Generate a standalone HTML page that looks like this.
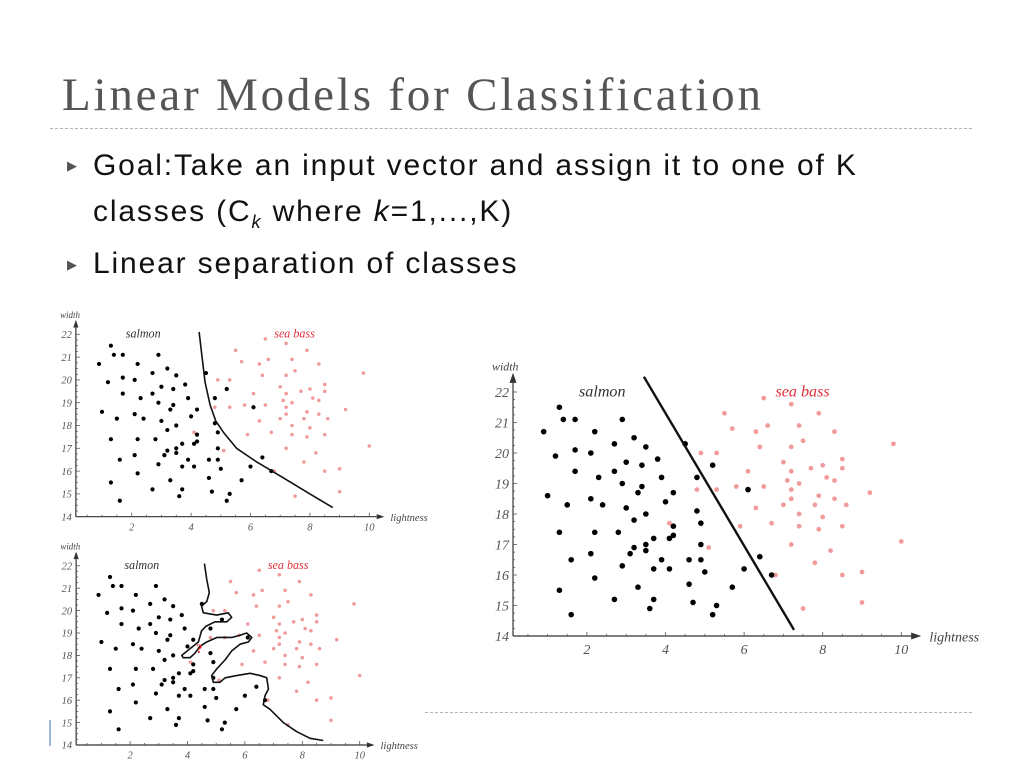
<!DOCTYPE html>
<html><head><meta charset="utf-8">
<style>
body{margin:0;width:1024px;height:768px;background:#fff;overflow:hidden;position:relative;font-family:"Liberation Sans",sans-serif}
.title{position:absolute;left:62px;top:68px;font-family:"Liberation Serif",serif;font-size:47px;color:#555;letter-spacing:2.8px;white-space:nowrap}
.rule{position:absolute;border-top:1px dashed #aab4c0;height:0}
.bul{position:absolute;left:67px;color:#555;font-size:13px}
.txt{position:absolute;left:93px;font-size:30px;color:#111;line-height:46px;letter-spacing:1.85px;white-space:nowrap}
svg{position:absolute;left:0;top:0}
</style></head><body>
<div class="title">Linear Models for Classification</div>
<div class="rule" style="left:50px;top:128px;width:922px"></div>
<div class="rule" style="left:425px;top:712px;width:547px"></div>
<div class="bul" style="top:158px">&#9654;</div>
<div class="txt" style="top:143px">Goal:Take an input vector and assign it to one of K<br>classes (C<sub style="font-size:18px;font-style:italic">k</sub> where <i>k</i>=1,...,K)</div>
<div class="bul" style="top:257px">&#9654;</div>
<div class="txt" style="top:241px">Linear separation of classes</div>
<div style="position:absolute;left:49px;top:720px;width:2px;height:26px;background:#9fb6d6"></div>
<svg id="chart" width="1024" height="768"></svg>
<script>
const salmonX=[1.3,1.4,1.7,0.9,2.2,2.9,3.2,2.7,3.5,1.2,1.7,2.1,3.8,4.5,1.7,3.0,2.7,3.4,2.3,3.9,4.8,5.2,1.0,2.9,3.4,3.3,4.2,6.1,1.5,2.1,2.4,3.0,4.0,3.5,4.8,3.2,4.2,4.9,1.3,2.2,2.8,4.2,4.1,3.7,3.5,4.9,2.1,3.2,3.1,3.5,3.9,4.6,4.9,1.6,2.9,3.7,4.1,5.0,6.0,6.4,6.7,2.2,4.6,3.3,5.7,1.3,2.7,3.7,4.7,3.6,5.3,1.6,5.2];
const salmonY=[21.5,21.1,21.1,20.7,20.7,21.1,20.5,20.3,20.2,19.9,20.1,20.0,19.8,20.3,19.4,19.7,19.4,19.6,19.2,19.2,19.2,19.6,18.6,19.0,18.9,18.7,18.7,18.8,18.3,18.5,18.3,18.2,18.4,18.0,18.1,17.8,17.6,17.7,17.4,17.4,17.4,17.3,17.2,17.2,17.0,17.0,16.7,16.9,16.7,16.8,16.5,16.5,16.5,16.5,16.3,16.2,16.2,16.1,16.2,16.6,16.0,15.9,15.7,15.6,15.6,15.5,15.2,15.2,15.1,14.9,15.0,14.7,14.7];
const bassX=[6.5,7.2,5.5,7.9,6.6,7.4,5.7,6.3,8.3,7.5,9.8,6.4,7.2,4.9,5.3,8.5,7.0,8.0,8.5,6.1,7.7,7.2,7.1,8.1,8.3,7.4,4.8,5.3,5.8,6.5,7.2,9.2,7.9,8.3,7.2,6.3,7.0,7.8,8.6,7.4,8.0,4.1,6.7,5.9,7.4,7.9,8.5,10.0,7.2,5.1,8.2,7.8,9.0,6.8,8.5,9.0,7.5];
const bassY=[21.8,21.6,21.3,21.3,20.9,20.9,20.8,20.7,20.7,20.4,20.3,20.2,20.2,20.0,20.0,19.8,19.7,19.6,19.5,19.4,19.5,19.4,19.1,19.2,19.1,19.0,18.8,18.8,18.9,18.9,18.8,18.7,18.6,18.5,18.5,18.2,18.3,18.3,18.3,18.0,17.9,17.7,17.7,17.6,17.6,17.5,17.6,17.1,17.0,16.9,16.8,16.4,16.1,16.0,16.0,15.1,14.9];
const xTicks=[2,4,6,8,10];
const yTicks=[14,15,16,17,18,19,20,21,22];
const lineX=[3.45,7.27];
const lineY=[22.5,14.2];
const curveX=[4.27,4.36,4.47,4.64,4.83,5.09,5.53,6.21,7.11,8.0,8.77];
const curveY=[22.1,21.1,19.9,18.9,18.2,17.7,17.0,16.4,15.7,15.0,14.4];
const wigX=[4.59,4.67,4.76,4.67,4.49,4.55,5.02,5.42,5.54,5.37,4.96,4.64,4.49,4.38,4.09,3.8,3.85,4.09,4.26,4.43,4.67,5.02,5.54,5.83,6.06,6.24,6.12,5.83,5.54,5.31,5.02,4.84,4.9,5.13,5.31,5.71,6.18,6.53,6.76,6.82,6.7,6.64,6.87,7.34,7.8,8.27,8.73];
const wigY=[22.1,21.4,20.8,20.4,20.2,19.9,19.8,19.9,19.7,19.5,19.5,19.3,19.1,18.6,18.3,18.0,17.9,17.9,18.1,18.4,18.6,18.8,18.8,18.9,19.0,18.8,18.6,18.5,18.2,17.8,17.4,17.1,16.8,16.8,17.0,17.1,17.2,17.1,17.0,16.5,16.2,15.8,15.6,15.0,14.6,14.3,14.2];

const svg=document.getElementById('chart');
const NS='http://www.w3.org/2000/svg';
function mk(tag,attrs,parent){const e=document.createElementNS(NS,tag);for(const k in attrs)e.setAttribute(k,attrs[k]);parent.appendChild(e);return e;}

function plot(cfg){
  const g=mk('g',{},svg);
  
  
  const sx=v=>cfg.x0+v*cfg.kx, sy=v=>cfg.y14-(v-14)*cfg.ky;
  const ox=sx(0.12), oy=sy(14);
  const ax=mk('line',{x1:ox,y1:oy,x2:sx(10.25),y2:oy,stroke:'#333','stroke-width':1.2},g);
  
  const ay=mk('line',{x1:ox,y1:oy,x2:ox,y2:sy(22.3),stroke:'#333','stroke-width':1.2},g);
  
  const a=cfg.fs*0.45;
  mk('polygon',{points:`${sx(10.25)+a*1.6},${oy} ${sx(10.25)},${oy-a*0.55} ${sx(10.25)},${oy+a*0.55}`,fill:'#333'},g);
  mk('polygon',{points:`${ox},${sy(22.3)-a*1.6} ${ox-a*0.55},${sy(22.3)} ${ox+a*0.55},${sy(22.3)}`,fill:'#333'},g);
  for(let v=0.5;v<=10;v+=0.5){mk('line',{x1:sx(v),y1:oy,x2:sx(v),y2:oy-(v%2===0?4:2),stroke:'#555','stroke-width':0.8},g);}
  for(let v=14.25;v<=22;v+=0.25){mk('line',{x1:ox,y1:sy(v),x2:ox+(Number.isInteger(v)?4:2),y2:sy(v),stroke:'#555','stroke-width':0.8},g);}
  xTicks.forEach(v=>{const t=mk('text',{x:sx(v),y:oy+cfg.fs*1.3,'text-anchor':'middle','font-size':cfg.fs,'font-style':'italic','font-family':'Liberation Serif,serif',fill:'#555'},g);t.textContent=v;
    });
  yTicks.forEach(v=>{const t=mk('text',{x:ox-4,y:sy(v)+cfg.fs*0.35,'text-anchor':'end','font-size':cfg.fs,'font-style':'italic','font-family':'Liberation Serif,serif',fill:'#555'},g);t.textContent=v;
    });
  const xt=mk('text',{x:sx(10.25)+cfg.fs*1.3,y:oy+cfg.fs*0.4,'font-size':cfg.fs,'font-style':'italic','font-family':'Liberation Serif,serif',fill:'#444'},g);xt.textContent='lightness';
  
  const yt=mk('text',{x:ox-cfg.fs*1.5,y:sy(22.3)-cfg.fs*0.9,'font-size':cfg.fs*0.85,'font-style':'italic','font-family':'Liberation Serif,serif',fill:'#444'},g);yt.textContent='width';
  
  const l1=mk('text',{x:sx(1.8),y:sy(21.85),'font-size':cfg.fs*1.15,'font-style':'italic','font-family':'Liberation Serif,serif',fill:'#333'},g);l1.textContent='salmon';
  
  const l2=mk('text',{x:sx(6.8),y:sy(21.85),'font-size':cfg.fs*1.15,'font-style':'italic','font-family':'Liberation Serif,serif',fill:'#e0303a'},g);l2.textContent='sea bass';
  
  bassX.forEach((v,i)=>{const c=mk('circle',{cx:sx(v),cy:sy(bassY[i]),r:cfg.r*0.85,fill:'#f19a9a'},g);
    });
  salmonX.forEach((v,i)=>{const c=mk('circle',{cx:sx(v),cy:sy(salmonY[i]),r:cfg.r,fill:'#000'},g);
    });
  const bx=cfg.bx, by=cfg.by;
  const p=mk('path',{d:bx.map((v,i)=>(i?'L':'M')+sx(v)+','+sy(by[i])).join(' '),fill:'none',stroke:'#111','stroke-width':cfg.lw,'stroke-linejoin':'round'},g);
  
  if(cfg.q){const q=mk('text',{x:sx(4.3),y:sy(18.1),'font-size':cfg.fs*1.2,'font-weight':'bold','font-family':'Liberation Serif,serif',fill:'#e02020'},g);q.textContent='?';
    }
}
plot({name:'linear-boundary-chart',x0:508.3,kx:39.3,y14:636,ky:30.5,fs:14,r:2.8,lw:2.4,bx:lineX,by:lineY});
plot({name:'curved-boundary-chart',x0:72.3,kx:29.7,y14:516.7,ky:22.8,fs:10.5,r:2.1,lw:1.6,bx:curveX,by:curveY});
plot({name:'overfit-boundary-chart',x0:72.7,kx:28.7,y14:745,ky:22.4,fs:10.5,r:2.1,lw:1.6,bx:wigX,by:wigY,q:true});
</script>
</body></html>
